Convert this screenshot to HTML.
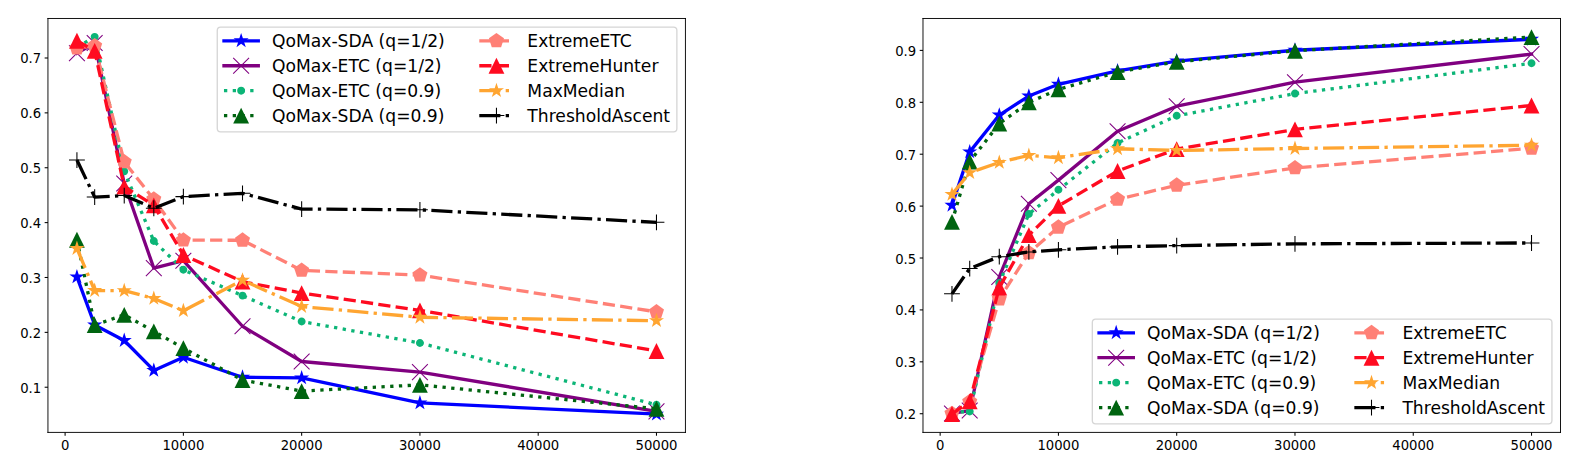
<!DOCTYPE html>
<html lang="en"><head><meta charset="utf-8"><title>QoMax comparison</title>
<style>
html,body{margin:0;padding:0;background:#fff;}
body{width:1584px;height:463px;overflow:hidden;font-family:"DejaVu Sans","Liberation Sans",sans-serif;}
svg{display:block;position:absolute;left:0;top:0;stroke-linejoin:round;stroke-linecap:butt;}
svg *{stroke-linejoin:round;stroke-linecap:butt;}
</style></head><body>
<svg width="1584" height="463" viewBox="0 0 1200 350.758" preserveAspectRatio="none"><g><g><path d="M 0 350.758 L 1200 350.758 L 1200 0 L 0 0 z" style="fill: #ffffff" /></g><g><g><path d="M 36.326 327.591 L 519.28 327.591 L 519.28 14.015 L 36.326 14.015 z" style="fill: #ffffff" /></g><g><g><g><g><path d="M 0 0 L 0 2.5" style="stroke: #000000; stroke-width: 0.8;stroke: #000000; stroke-width: 0.8" transform="translate(49.318 327.591)" /></g></g><g><text style="font-size: 10px; font-family: 'DejaVu Sans', 'Liberation Sans', sans-serif; text-anchor: middle" x="49.318" y="340.889">0</text></g></g><g><g><g><path d="M 0 0 L 0 2.5" style="stroke: #000000; stroke-width: 0.8;stroke: #000000; stroke-width: 0.8" transform="translate(138.92 327.591)" /></g></g><g><text style="font-size: 10px; font-family: 'DejaVu Sans', 'Liberation Sans', sans-serif; text-anchor: middle" x="138.92" y="340.889">10000</text></g></g><g><g><g><path d="M 0 0 L 0 2.5" style="stroke: #000000; stroke-width: 0.8;stroke: #000000; stroke-width: 0.8" transform="translate(228.522 327.591)" /></g></g><g><text style="font-size: 10px; font-family: 'DejaVu Sans', 'Liberation Sans', sans-serif; text-anchor: middle" x="228.522" y="340.889">20000</text></g></g><g><g><g><path d="M 0 0 L 0 2.5" style="stroke: #000000; stroke-width: 0.8;stroke: #000000; stroke-width: 0.8" transform="translate(318.124 327.591)" /></g></g><g><text style="font-size: 10px; font-family: 'DejaVu Sans', 'Liberation Sans', sans-serif; text-anchor: middle" x="318.124" y="340.889">30000</text></g></g><g><g><g><path d="M 0 0 L 0 2.5" style="stroke: #000000; stroke-width: 0.8;stroke: #000000; stroke-width: 0.8" transform="translate(407.726 327.591)" /></g></g><g><text style="font-size: 10px; font-family: 'DejaVu Sans', 'Liberation Sans', sans-serif; text-anchor: middle" x="407.726" y="340.889">40000</text></g></g><g><g><g><path d="M 0 0 L 0 2.5" style="stroke: #000000; stroke-width: 0.8;stroke: #000000; stroke-width: 0.8" transform="translate(497.328 327.591)" /></g></g><g><text style="font-size: 10px; font-family: 'DejaVu Sans', 'Liberation Sans', sans-serif; text-anchor: middle" x="497.328" y="340.889">50000</text></g></g></g><g><g><g><g><path d="M 0 0 L -2.5 0" style="stroke: #000000; stroke-width: 0.8;stroke: #000000; stroke-width: 0.8" transform="translate(36.326 293.354)" /></g></g><g><text style="font-size: 10px; font-family: 'DejaVu Sans', 'Liberation Sans', sans-serif; text-anchor: end" x="31.176" y="297.533">0.1</text></g></g><g><g><g><path d="M 0 0 L -2.5 0" style="stroke: #000000; stroke-width: 0.8;stroke: #000000; stroke-width: 0.8" transform="translate(36.326 251.785)" /></g></g><g><text style="font-size: 10px; font-family: 'DejaVu Sans', 'Liberation Sans', sans-serif; text-anchor: end" x="31.176" y="255.964">0.2</text></g></g><g><g><g><path d="M 0 0 L -2.5 0" style="stroke: #000000; stroke-width: 0.8;stroke: #000000; stroke-width: 0.8" transform="translate(36.326 210.215)" /></g></g><g><text style="font-size: 10px; font-family: 'DejaVu Sans', 'Liberation Sans', sans-serif; text-anchor: end" x="31.176" y="214.394">0.3</text></g></g><g><g><g><path d="M 0 0 L -2.5 0" style="stroke: #000000; stroke-width: 0.8;stroke: #000000; stroke-width: 0.8" transform="translate(36.326 168.646)" /></g></g><g><text style="font-size: 10px; font-family: 'DejaVu Sans', 'Liberation Sans', sans-serif; text-anchor: end" x="31.176" y="172.825">0.4</text></g></g><g><g><g><path d="M 0 0 L -2.5 0" style="stroke: #000000; stroke-width: 0.8;stroke: #000000; stroke-width: 0.8" transform="translate(36.326 127.076)" /></g></g><g><text style="font-size: 10px; font-family: 'DejaVu Sans', 'Liberation Sans', sans-serif; text-anchor: end" x="31.176" y="131.255">0.5</text></g></g><g><g><g><path d="M 0 0 L -2.5 0" style="stroke: #000000; stroke-width: 0.8;stroke: #000000; stroke-width: 0.8" transform="translate(36.326 85.506)" /></g></g><g><text style="font-size: 10px; font-family: 'DejaVu Sans', 'Liberation Sans', sans-serif; text-anchor: end" x="31.176" y="89.686">0.6</text></g></g><g><g><g><path d="M 0 0 L -2.5 0" style="stroke: #000000; stroke-width: 0.8;stroke: #000000; stroke-width: 0.8" transform="translate(36.326 43.937)" /></g></g><g><text style="font-size: 10px; font-family: 'DejaVu Sans', 'Liberation Sans', sans-serif; text-anchor: end" x="31.176" y="48.116">0.7</text></g></g></g><g><path d="M 58.278 209.758 L 71.719 246.173 L 94.119 257.937 L 116.52 280.634 L 138.92 270.657 L 183.721 285.789 L 228.522 286.329 L 318.124 305.202 L 497.328 313.723" style="fill: none; stroke: #0000ff; stroke-width: 2.5; stroke-linecap: square" /><g><path d="M 0 -6 L -1.347 -1.854 L -5.706 -1.854 L -2.18 0.708 L -3.527 4.854 L -0 2.292 L 3.527 4.854 L 2.18 0.708 L 5.706 -1.854 L 1.347 -1.854 z" style="fill: #0000ff" transform="translate(58.278 209.758)" /><path d="M 0 -6 L -1.347 -1.854 L -5.706 -1.854 L -2.18 0.708 L -3.527 4.854 L -0 2.292 L 3.527 4.854 L 2.18 0.708 L 5.706 -1.854 L 1.347 -1.854 z" style="fill: #0000ff" transform="translate(71.719 246.173)" /><path d="M 0 -6 L -1.347 -1.854 L -5.706 -1.854 L -2.18 0.708 L -3.527 4.854 L -0 2.292 L 3.527 4.854 L 2.18 0.708 L 5.706 -1.854 L 1.347 -1.854 z" style="fill: #0000ff" transform="translate(94.119 257.937)" /><path d="M 0 -6 L -1.347 -1.854 L -5.706 -1.854 L -2.18 0.708 L -3.527 4.854 L -0 2.292 L 3.527 4.854 L 2.18 0.708 L 5.706 -1.854 L 1.347 -1.854 z" style="fill: #0000ff" transform="translate(116.52 280.634)" /><path d="M 0 -6 L -1.347 -1.854 L -5.706 -1.854 L -2.18 0.708 L -3.527 4.854 L -0 2.292 L 3.527 4.854 L 2.18 0.708 L 5.706 -1.854 L 1.347 -1.854 z" style="fill: #0000ff" transform="translate(138.92 270.657)" /><path d="M 0 -6 L -1.347 -1.854 L -5.706 -1.854 L -2.18 0.708 L -3.527 4.854 L -0 2.292 L 3.527 4.854 L 2.18 0.708 L 5.706 -1.854 L 1.347 -1.854 z" style="fill: #0000ff" transform="translate(183.721 285.789)" /><path d="M 0 -6 L -1.347 -1.854 L -5.706 -1.854 L -2.18 0.708 L -3.527 4.854 L -0 2.292 L 3.527 4.854 L 2.18 0.708 L 5.706 -1.854 L 1.347 -1.854 z" style="fill: #0000ff" transform="translate(228.522 286.329)" /><path d="M 0 -6 L -1.347 -1.854 L -5.706 -1.854 L -2.18 0.708 L -3.527 4.854 L -0 2.292 L 3.527 4.854 L 2.18 0.708 L 5.706 -1.854 L 1.347 -1.854 z" style="fill: #0000ff" transform="translate(318.124 305.202)" /><path d="M 0 -6 L -1.347 -1.854 L -5.706 -1.854 L -2.18 0.708 L -3.527 4.854 L -0 2.292 L 3.527 4.854 L 2.18 0.708 L 5.706 -1.854 L 1.347 -1.854 z" style="fill: #0000ff" transform="translate(497.328 313.723)" /></g></g><g><path d="M 58.278 40.279 L 71.719 32.588 L 94.119 139.048 L 116.52 203.148 L 138.92 197.495 L 183.721 247.17 L 228.522 273.858 L 318.124 281.881 L 497.328 311.645" style="fill: none; stroke: #800080; stroke-width: 2.5; stroke-linecap: square" /><g><path d="M -6 6 L 6 -6 M -6 -6 L 6 6" style="stroke: #800080; stroke-width: 0.8;fill: #800080; stroke: #800080; stroke-width: 0.8" transform="translate(58.278 40.279)" /><path d="M -6 6 L 6 -6 M -6 -6 L 6 6" style="stroke: #800080; stroke-width: 0.8;fill: #800080; stroke: #800080; stroke-width: 0.8" transform="translate(71.719 32.588)" /><path d="M -6 6 L 6 -6 M -6 -6 L 6 6" style="stroke: #800080; stroke-width: 0.8;fill: #800080; stroke: #800080; stroke-width: 0.8" transform="translate(94.119 139.048)" /><path d="M -6 6 L 6 -6 M -6 -6 L 6 6" style="stroke: #800080; stroke-width: 0.8;fill: #800080; stroke: #800080; stroke-width: 0.8" transform="translate(116.52 203.148)" /><path d="M -6 6 L 6 -6 M -6 -6 L 6 6" style="stroke: #800080; stroke-width: 0.8;fill: #800080; stroke: #800080; stroke-width: 0.8" transform="translate(138.92 197.495)" /><path d="M -6 6 L 6 -6 M -6 -6 L 6 6" style="stroke: #800080; stroke-width: 0.8;fill: #800080; stroke: #800080; stroke-width: 0.8" transform="translate(183.721 247.17)" /><path d="M -6 6 L 6 -6 M -6 -6 L 6 6" style="stroke: #800080; stroke-width: 0.8;fill: #800080; stroke: #800080; stroke-width: 0.8" transform="translate(228.522 273.858)" /><path d="M -6 6 L 6 -6 M -6 -6 L 6 6" style="stroke: #800080; stroke-width: 0.8;fill: #800080; stroke: #800080; stroke-width: 0.8" transform="translate(318.124 281.881)" /><path d="M -6 6 L 6 -6 M -6 -6 L 6 6" style="stroke: #800080; stroke-width: 0.8;fill: #800080; stroke: #800080; stroke-width: 0.8" transform="translate(497.328 311.645)" /></g></g><g><path d="M 58.278 35.831 L 71.719 27.933 L 94.119 129.82 L 116.52 182.613 L 138.92 204.395 L 183.721 223.933 L 228.522 243.595 L 318.124 259.808 L 497.328 306.656" style="fill: none; stroke-dasharray: 2.5,4.125; stroke-dashoffset: 0; stroke: #0cb577; stroke-width: 2.5" /><g><path d="M 0 3 C 0.796 3 1.559 2.684 2.121 2.121 C 2.684 1.559 3 0.796 3 0 C 3 -0.796 2.684 -1.559 2.121 -2.121 C 1.559 -2.684 0.796 -3 0 -3 C -0.796 -3 -1.559 -2.684 -2.121 -2.121 C -2.684 -1.559 -3 -0.796 -3 0 C -3 0.796 -2.684 1.559 -2.121 2.121 C -1.559 2.684 -0.796 3 0 3 z" style="fill: #0cb577" transform="translate(58.278 35.831)" /><path d="M 0 3 C 0.796 3 1.559 2.684 2.121 2.121 C 2.684 1.559 3 0.796 3 0 C 3 -0.796 2.684 -1.559 2.121 -2.121 C 1.559 -2.684 0.796 -3 0 -3 C -0.796 -3 -1.559 -2.684 -2.121 -2.121 C -2.684 -1.559 -3 -0.796 -3 0 C -3 0.796 -2.684 1.559 -2.121 2.121 C -1.559 2.684 -0.796 3 0 3 z" style="fill: #0cb577" transform="translate(71.719 27.933)" /><path d="M 0 3 C 0.796 3 1.559 2.684 2.121 2.121 C 2.684 1.559 3 0.796 3 0 C 3 -0.796 2.684 -1.559 2.121 -2.121 C 1.559 -2.684 0.796 -3 0 -3 C -0.796 -3 -1.559 -2.684 -2.121 -2.121 C -2.684 -1.559 -3 -0.796 -3 0 C -3 0.796 -2.684 1.559 -2.121 2.121 C -1.559 2.684 -0.796 3 0 3 z" style="fill: #0cb577" transform="translate(94.119 129.82)" /><path d="M 0 3 C 0.796 3 1.559 2.684 2.121 2.121 C 2.684 1.559 3 0.796 3 0 C 3 -0.796 2.684 -1.559 2.121 -2.121 C 1.559 -2.684 0.796 -3 0 -3 C -0.796 -3 -1.559 -2.684 -2.121 -2.121 C -2.684 -1.559 -3 -0.796 -3 0 C -3 0.796 -2.684 1.559 -2.121 2.121 C -1.559 2.684 -0.796 3 0 3 z" style="fill: #0cb577" transform="translate(116.52 182.613)" /><path d="M 0 3 C 0.796 3 1.559 2.684 2.121 2.121 C 2.684 1.559 3 0.796 3 0 C 3 -0.796 2.684 -1.559 2.121 -2.121 C 1.559 -2.684 0.796 -3 0 -3 C -0.796 -3 -1.559 -2.684 -2.121 -2.121 C -2.684 -1.559 -3 -0.796 -3 0 C -3 0.796 -2.684 1.559 -2.121 2.121 C -1.559 2.684 -0.796 3 0 3 z" style="fill: #0cb577" transform="translate(138.92 204.395)" /><path d="M 0 3 C 0.796 3 1.559 2.684 2.121 2.121 C 2.684 1.559 3 0.796 3 0 C 3 -0.796 2.684 -1.559 2.121 -2.121 C 1.559 -2.684 0.796 -3 0 -3 C -0.796 -3 -1.559 -2.684 -2.121 -2.121 C -2.684 -1.559 -3 -0.796 -3 0 C -3 0.796 -2.684 1.559 -2.121 2.121 C -1.559 2.684 -0.796 3 0 3 z" style="fill: #0cb577" transform="translate(183.721 223.933)" /><path d="M 0 3 C 0.796 3 1.559 2.684 2.121 2.121 C 2.684 1.559 3 0.796 3 0 C 3 -0.796 2.684 -1.559 2.121 -2.121 C 1.559 -2.684 0.796 -3 0 -3 C -0.796 -3 -1.559 -2.684 -2.121 -2.121 C -2.684 -1.559 -3 -0.796 -3 0 C -3 0.796 -2.684 1.559 -2.121 2.121 C -1.559 2.684 -0.796 3 0 3 z" style="fill: #0cb577" transform="translate(228.522 243.595)" /><path d="M 0 3 C 0.796 3 1.559 2.684 2.121 2.121 C 2.684 1.559 3 0.796 3 0 C 3 -0.796 2.684 -1.559 2.121 -2.121 C 1.559 -2.684 0.796 -3 0 -3 C -0.796 -3 -1.559 -2.684 -2.121 -2.121 C -2.684 -1.559 -3 -0.796 -3 0 C -3 0.796 -2.684 1.559 -2.121 2.121 C -1.559 2.684 -0.796 3 0 3 z" style="fill: #0cb577" transform="translate(318.124 259.808)" /><path d="M 0 3 C 0.796 3 1.559 2.684 2.121 2.121 C 2.684 1.559 3 0.796 3 0 C 3 -0.796 2.684 -1.559 2.121 -2.121 C 1.559 -2.684 0.796 -3 0 -3 C -0.796 -3 -1.559 -2.684 -2.121 -2.121 C -2.684 -1.559 -3 -0.796 -3 0 C -3 0.796 -2.684 1.559 -2.121 2.121 C -1.559 2.684 -0.796 3 0 3 z" style="fill: #0cb577" transform="translate(497.328 306.656)" /></g></g><g><path d="M 58.278 181.657 L 71.719 246.256 L 94.119 238.482 L 116.52 250.995 L 138.92 263.757 L 183.721 287.909 L 228.522 296.264 L 318.124 291.567 L 497.328 309.649" style="fill: none; stroke-dasharray: 2.5,4.125; stroke-dashoffset: 0; stroke: #006410; stroke-width: 2.5" /><g><path d="M 0 -6 L -6 6 L 6 6 z" style="fill: #006410" transform="translate(58.278 181.657)" /><path d="M 0 -6 L -6 6 L 6 6 z" style="fill: #006410" transform="translate(71.719 246.256)" /><path d="M 0 -6 L -6 6 L 6 6 z" style="fill: #006410" transform="translate(94.119 238.482)" /><path d="M 0 -6 L -6 6 L 6 6 z" style="fill: #006410" transform="translate(116.52 250.995)" /><path d="M 0 -6 L -6 6 L 6 6 z" style="fill: #006410" transform="translate(138.92 263.757)" /><path d="M 0 -6 L -6 6 L 6 6 z" style="fill: #006410" transform="translate(183.721 287.909)" /><path d="M 0 -6 L -6 6 L 6 6 z" style="fill: #006410" transform="translate(228.522 296.264)" /><path d="M 0 -6 L -6 6 L 6 6 z" style="fill: #006410" transform="translate(318.124 291.567)" /><path d="M 0 -6 L -6 6 L 6 6 z" style="fill: #006410" transform="translate(497.328 309.649)" /></g></g><g><path d="M 58.278 36.454 L 71.719 34.792 L 94.119 122.628 L 116.52 150.979 L 138.92 181.906 L 183.721 182.031 L 228.522 204.811 L 318.124 208.386 L 497.328 236.238" style="fill: none; stroke-dasharray: 9.25,4; stroke-dashoffset: 0; stroke: #ff8076; stroke-width: 2.5" /><g><path d="M 0 -6 L -5.706 -1.854 L -3.527 4.854 L 3.527 4.854 L 5.706 -1.854 z" style="fill: #ff8076" transform="translate(58.278 36.454)" /><path d="M 0 -6 L -5.706 -1.854 L -3.527 4.854 L 3.527 4.854 L 5.706 -1.854 z" style="fill: #ff8076" transform="translate(71.719 34.792)" /><path d="M 0 -6 L -5.706 -1.854 L -3.527 4.854 L 3.527 4.854 L 5.706 -1.854 z" style="fill: #ff8076" transform="translate(94.119 122.628)" /><path d="M 0 -6 L -5.706 -1.854 L -3.527 4.854 L 3.527 4.854 L 5.706 -1.854 z" style="fill: #ff8076" transform="translate(116.52 150.979)" /><path d="M 0 -6 L -5.706 -1.854 L -3.527 4.854 L 3.527 4.854 L 5.706 -1.854 z" style="fill: #ff8076" transform="translate(138.92 181.906)" /><path d="M 0 -6 L -5.706 -1.854 L -3.527 4.854 L 3.527 4.854 L 5.706 -1.854 z" style="fill: #ff8076" transform="translate(183.721 182.031)" /><path d="M 0 -6 L -5.706 -1.854 L -3.527 4.854 L 3.527 4.854 L 5.706 -1.854 z" style="fill: #ff8076" transform="translate(228.522 204.811)" /><path d="M 0 -6 L -5.706 -1.854 L -3.527 4.854 L 3.527 4.854 L 5.706 -1.854 z" style="fill: #ff8076" transform="translate(318.124 208.386)" /><path d="M 0 -6 L -5.706 -1.854 L -3.527 4.854 L 3.527 4.854 L 5.706 -1.854 z" style="fill: #ff8076" transform="translate(497.328 236.238)" /></g></g><g><path d="M 58.278 30.843 L 71.719 38.533 L 94.119 141.418 L 116.52 155.593 L 138.92 193.172 L 183.721 213.374 L 228.522 222.021 L 318.124 235.115 L 497.328 265.877" style="fill: none; stroke-dasharray: 9.25,4; stroke-dashoffset: 0; stroke: #ff0b20; stroke-width: 2.5" /><g><path d="M 0 -6 L -6 6 L 6 6 z" style="fill: #ff0b20" transform="translate(58.278 30.843)" /><path d="M 0 -6 L -6 6 L 6 6 z" style="fill: #ff0b20" transform="translate(71.719 38.533)" /><path d="M 0 -6 L -6 6 L 6 6 z" style="fill: #ff0b20" transform="translate(94.119 141.418)" /><path d="M 0 -6 L -6 6 L 6 6 z" style="fill: #ff0b20" transform="translate(116.52 155.593)" /><path d="M 0 -6 L -6 6 L 6 6 z" style="fill: #ff0b20" transform="translate(138.92 193.172)" /><path d="M 0 -6 L -6 6 L 6 6 z" style="fill: #ff0b20" transform="translate(183.721 213.374)" /><path d="M 0 -6 L -6 6 L 6 6 z" style="fill: #ff0b20" transform="translate(228.522 222.021)" /><path d="M 0 -6 L -6 6 L 6 6 z" style="fill: #ff0b20" transform="translate(318.124 235.115)" /><path d="M 0 -6 L -6 6 L 6 6 z" style="fill: #ff0b20" transform="translate(497.328 265.877)" /></g></g><g><path d="M 58.278 188.266 L 71.719 220.109 L 94.119 220.192 L 116.52 226.095 L 138.92 235.365 L 183.721 212.335 L 228.522 232.247 L 318.124 240.353 L 497.328 242.93" style="fill: none; stroke-dasharray: 16,4,2.5,4; stroke-dashoffset: 0; stroke: #ffa531; stroke-width: 2.5" /><g><path d="M 0 -6 L -1.347 -1.854 L -5.706 -1.854 L -2.18 0.708 L -3.527 4.854 L -0 2.292 L 3.527 4.854 L 2.18 0.708 L 5.706 -1.854 L 1.347 -1.854 z" style="fill: #ffa531" transform="translate(58.278 188.266)" /><path d="M 0 -6 L -1.347 -1.854 L -5.706 -1.854 L -2.18 0.708 L -3.527 4.854 L -0 2.292 L 3.527 4.854 L 2.18 0.708 L 5.706 -1.854 L 1.347 -1.854 z" style="fill: #ffa531" transform="translate(71.719 220.109)" /><path d="M 0 -6 L -1.347 -1.854 L -5.706 -1.854 L -2.18 0.708 L -3.527 4.854 L -0 2.292 L 3.527 4.854 L 2.18 0.708 L 5.706 -1.854 L 1.347 -1.854 z" style="fill: #ffa531" transform="translate(94.119 220.192)" /><path d="M 0 -6 L -1.347 -1.854 L -5.706 -1.854 L -2.18 0.708 L -3.527 4.854 L -0 2.292 L 3.527 4.854 L 2.18 0.708 L 5.706 -1.854 L 1.347 -1.854 z" style="fill: #ffa531" transform="translate(116.52 226.095)" /><path d="M 0 -6 L -1.347 -1.854 L -5.706 -1.854 L -2.18 0.708 L -3.527 4.854 L -0 2.292 L 3.527 4.854 L 2.18 0.708 L 5.706 -1.854 L 1.347 -1.854 z" style="fill: #ffa531" transform="translate(138.92 235.365)" /><path d="M 0 -6 L -1.347 -1.854 L -5.706 -1.854 L -2.18 0.708 L -3.527 4.854 L -0 2.292 L 3.527 4.854 L 2.18 0.708 L 5.706 -1.854 L 1.347 -1.854 z" style="fill: #ffa531" transform="translate(183.721 212.335)" /><path d="M 0 -6 L -1.347 -1.854 L -5.706 -1.854 L -2.18 0.708 L -3.527 4.854 L -0 2.292 L 3.527 4.854 L 2.18 0.708 L 5.706 -1.854 L 1.347 -1.854 z" style="fill: #ffa531" transform="translate(228.522 232.247)" /><path d="M 0 -6 L -1.347 -1.854 L -5.706 -1.854 L -2.18 0.708 L -3.527 4.854 L -0 2.292 L 3.527 4.854 L 2.18 0.708 L 5.706 -1.854 L 1.347 -1.854 z" style="fill: #ffa531" transform="translate(318.124 240.353)" /><path d="M 0 -6 L -1.347 -1.854 L -5.706 -1.854 L -2.18 0.708 L -3.527 4.854 L -0 2.292 L 3.527 4.854 L 2.18 0.708 L 5.706 -1.854 L 1.347 -1.854 z" style="fill: #ffa531" transform="translate(497.328 242.93)" /></g></g><g><path d="M 58.278 121.256 L 71.719 149.316 L 94.119 148.152 L 116.52 157.754 L 138.92 148.942 L 183.721 146.447 L 228.522 158.378 L 318.124 158.96 L 497.328 168.438" style="fill: none; stroke-dasharray: 16,4,2.5,4; stroke-dashoffset: 0; stroke: #000000; stroke-width: 2.5" /><g><path d="M -6 0 L 6 0 M 0 6 L 0 -6" style="stroke: #000000; stroke-width: 0.8;stroke: #000000; stroke-width: 0.8" transform="translate(58.278 121.256)" /><path d="M -6 0 L 6 0 M 0 6 L 0 -6" style="stroke: #000000; stroke-width: 0.8;stroke: #000000; stroke-width: 0.8" transform="translate(71.719 149.316)" /><path d="M -6 0 L 6 0 M 0 6 L 0 -6" style="stroke: #000000; stroke-width: 0.8;stroke: #000000; stroke-width: 0.8" transform="translate(94.119 148.152)" /><path d="M -6 0 L 6 0 M 0 6 L 0 -6" style="stroke: #000000; stroke-width: 0.8;stroke: #000000; stroke-width: 0.8" transform="translate(116.52 157.754)" /><path d="M -6 0 L 6 0 M 0 6 L 0 -6" style="stroke: #000000; stroke-width: 0.8;stroke: #000000; stroke-width: 0.8" transform="translate(138.92 148.942)" /><path d="M -6 0 L 6 0 M 0 6 L 0 -6" style="stroke: #000000; stroke-width: 0.8;stroke: #000000; stroke-width: 0.8" transform="translate(183.721 146.447)" /><path d="M -6 0 L 6 0 M 0 6 L 0 -6" style="stroke: #000000; stroke-width: 0.8;stroke: #000000; stroke-width: 0.8" transform="translate(228.522 158.378)" /><path d="M -6 0 L 6 0 M 0 6 L 0 -6" style="stroke: #000000; stroke-width: 0.8;stroke: #000000; stroke-width: 0.8" transform="translate(318.124 158.96)" /><path d="M -6 0 L 6 0 M 0 6 L 0 -6" style="stroke: #000000; stroke-width: 0.8;stroke: #000000; stroke-width: 0.8" transform="translate(497.328 168.438)" /></g></g><g><path d="M 36.326 327.591 L 36.326 14.015" style="fill: none; stroke: #000000; stroke-width: 0.7; stroke-linejoin: miter; stroke-linecap: square" /></g><g><path d="M 519.28 327.591 L 519.28 14.015" style="fill: none; stroke: #000000; stroke-width: 0.7; stroke-linejoin: miter; stroke-linecap: square" /></g><g><path d="M 36.326 327.591 L 519.28 327.591" style="fill: none; stroke: #000000; stroke-width: 0.7; stroke-linejoin: miter; stroke-linecap: square" /></g><g><path d="M 36.326 14.015 L 519.28 14.015" style="fill: none; stroke: #000000; stroke-width: 0.7; stroke-linejoin: miter; stroke-linecap: square" /></g><g><g><path d="M 167.206 99.896 L 510.18 99.896 Q 512.78 99.896 512.78 97.296 L 512.78 23.115 Q 512.78 20.515 510.18 20.515 L 167.206 20.515 Q 164.606 20.515 164.606 23.115 L 164.606 97.296 Q 164.606 99.896 167.206 99.896 z" style="fill: #ffffff; opacity: 0.8; stroke: #cccccc; stroke-linejoin: miter" /></g><g><path d="M 169.676 30.913 L 182.676 30.913 L 195.676 30.913" style="fill: none; stroke: #0000ff; stroke-width: 2.5; stroke-linecap: square" /><g><path d="M 0 -6 L -1.347 -1.854 L -5.706 -1.854 L -2.18 0.708 L -3.527 4.854 L -0 2.292 L 3.527 4.854 L 2.18 0.708 L 5.706 -1.854 L 1.347 -1.854 z" style="fill: #0000ff" transform="translate(182.676 30.913)" /></g></g><g><text style="font-size: 13px; font-family: 'DejaVu Sans', 'Liberation Sans', sans-serif; text-anchor: start" x="206.076" y="35.463">QoMax-SDA (q=1/2)</text></g><g><path d="M 169.676 49.8 L 182.676 49.8 L 195.676 49.8" style="fill: none; stroke: #800080; stroke-width: 2.5; stroke-linecap: square" /><g><path d="M -6 6 L 6 -6 M -6 -6 L 6 6" style="stroke: #800080; stroke-width: 0.8;fill: #800080; stroke: #800080; stroke-width: 0.8" transform="translate(182.676 49.8)" /></g></g><g><text style="font-size: 13px; font-family: 'DejaVu Sans', 'Liberation Sans', sans-serif; text-anchor: start" x="206.076" y="54.35">QoMax-ETC (q=1/2)</text></g><g><path d="M 169.676 68.686 L 182.676 68.686 L 195.676 68.686" style="fill: none; stroke-dasharray: 2.5,4.125; stroke-dashoffset: 0; stroke: #0cb577; stroke-width: 2.5" /><g><path d="M 0 3 C 0.796 3 1.559 2.684 2.121 2.121 C 2.684 1.559 3 0.796 3 0 C 3 -0.796 2.684 -1.559 2.121 -2.121 C 1.559 -2.684 0.796 -3 0 -3 C -0.796 -3 -1.559 -2.684 -2.121 -2.121 C -2.684 -1.559 -3 -0.796 -3 0 C -3 0.796 -2.684 1.559 -2.121 2.121 C -1.559 2.684 -0.796 3 0 3 z" style="fill: #0cb577" transform="translate(182.676 68.686)" /></g></g><g><text style="font-size: 13px; font-family: 'DejaVu Sans', 'Liberation Sans', sans-serif; text-anchor: start" x="206.076" y="73.236">QoMax-ETC (q=0.9)</text></g><g><path d="M 169.676 87.573 L 182.676 87.573 L 195.676 87.573" style="fill: none; stroke-dasharray: 2.5,4.125; stroke-dashoffset: 0; stroke: #006410; stroke-width: 2.5" /><g><path d="M 0 -6 L -6 6 L 6 6 z" style="fill: #006410" transform="translate(182.676 87.573)" /></g></g><g><text style="font-size: 13px; font-family: 'DejaVu Sans', 'Liberation Sans', sans-serif; text-anchor: start" x="206.076" y="92.123">QoMax-SDA (q=0.9)</text></g><g><path d="M 363.104 30.913 L 376.104 30.913 L 389.104 30.913" style="fill: none; stroke-dasharray: 9.25,4; stroke-dashoffset: 0; stroke: #ff8076; stroke-width: 2.5" /><g><path d="M 0 -6 L -5.706 -1.854 L -3.527 4.854 L 3.527 4.854 L 5.706 -1.854 z" style="fill: #ff8076" transform="translate(376.104 30.913)" /></g></g><g><text style="font-size: 13px; font-family: 'DejaVu Sans', 'Liberation Sans', sans-serif; text-anchor: start" x="399.504" y="35.463">ExtremeETC</text></g><g><path d="M 363.104 49.8 L 376.104 49.8 L 389.104 49.8" style="fill: none; stroke-dasharray: 9.25,4; stroke-dashoffset: 0; stroke: #ff0b20; stroke-width: 2.5" /><g><path d="M 0 -6 L -6 6 L 6 6 z" style="fill: #ff0b20" transform="translate(376.104 49.8)" /></g></g><g><text style="font-size: 13px; font-family: 'DejaVu Sans', 'Liberation Sans', sans-serif; text-anchor: start" x="399.504" y="54.35">ExtremeHunter</text></g><g><path d="M 363.104 68.686 L 376.104 68.686 L 389.104 68.686" style="fill: none; stroke-dasharray: 16,4,2.5,4; stroke-dashoffset: 0; stroke: #ffa531; stroke-width: 2.5" /><g><path d="M 0 -6 L -1.347 -1.854 L -5.706 -1.854 L -2.18 0.708 L -3.527 4.854 L -0 2.292 L 3.527 4.854 L 2.18 0.708 L 5.706 -1.854 L 1.347 -1.854 z" style="fill: #ffa531" transform="translate(376.104 68.686)" /></g></g><g><text style="font-size: 13px; font-family: 'DejaVu Sans', 'Liberation Sans', sans-serif; text-anchor: start" x="399.504" y="73.236">MaxMedian</text></g><g><path d="M 363.104 87.573 L 376.104 87.573 L 389.104 87.573" style="fill: none; stroke-dasharray: 16,4,2.5,4; stroke-dashoffset: 0; stroke: #000000; stroke-width: 2.5" /><g><path d="M -6 0 L 6 0 M 0 6 L 0 -6" style="stroke: #000000; stroke-width: 0.8;stroke: #000000; stroke-width: 0.8" transform="translate(376.104 87.573)" /></g></g><g><text style="font-size: 13px; font-family: 'DejaVu Sans', 'Liberation Sans', sans-serif; text-anchor: start" x="399.504" y="92.123">ThresholdAscent</text></g></g></g><g><g><path d="M 699.242 327.591 L 1182.197 327.591 L 1182.197 14.015 L 699.242 14.015 z" style="fill: #ffffff" /></g><g><g><g><g><path d="M 0 0 L 0 2.5" style="stroke: #000000; stroke-width: 0.8;stroke: #000000; stroke-width: 0.8" transform="translate(712.235 327.591)" /></g></g><g><text style="font-size: 10px; font-family: 'DejaVu Sans', 'Liberation Sans', sans-serif; text-anchor: middle" x="712.235" y="340.889">0</text></g></g><g><g><g><path d="M 0 0 L 0 2.5" style="stroke: #000000; stroke-width: 0.8;stroke: #000000; stroke-width: 0.8" transform="translate(801.837 327.591)" /></g></g><g><text style="font-size: 10px; font-family: 'DejaVu Sans', 'Liberation Sans', sans-serif; text-anchor: middle" x="801.837" y="340.889">10000</text></g></g><g><g><g><path d="M 0 0 L 0 2.5" style="stroke: #000000; stroke-width: 0.8;stroke: #000000; stroke-width: 0.8" transform="translate(891.439 327.591)" /></g></g><g><text style="font-size: 10px; font-family: 'DejaVu Sans', 'Liberation Sans', sans-serif; text-anchor: middle" x="891.439" y="340.889">20000</text></g></g><g><g><g><path d="M 0 0 L 0 2.5" style="stroke: #000000; stroke-width: 0.8;stroke: #000000; stroke-width: 0.8" transform="translate(981.041 327.591)" /></g></g><g><text style="font-size: 10px; font-family: 'DejaVu Sans', 'Liberation Sans', sans-serif; text-anchor: middle" x="981.041" y="340.889">30000</text></g></g><g><g><g><path d="M 0 0 L 0 2.5" style="stroke: #000000; stroke-width: 0.8;stroke: #000000; stroke-width: 0.8" transform="translate(1070.643 327.591)" /></g></g><g><text style="font-size: 10px; font-family: 'DejaVu Sans', 'Liberation Sans', sans-serif; text-anchor: middle" x="1070.643" y="340.889">40000</text></g></g><g><g><g><path d="M 0 0 L 0 2.5" style="stroke: #000000; stroke-width: 0.8;stroke: #000000; stroke-width: 0.8" transform="translate(1160.244 327.591)" /></g></g><g><text style="font-size: 10px; font-family: 'DejaVu Sans', 'Liberation Sans', sans-serif; text-anchor: middle" x="1160.244" y="340.889">50000</text></g></g></g><g><g><g><g><path d="M 0 0 L -2.5 0" style="stroke: #000000; stroke-width: 0.8;stroke: #000000; stroke-width: 0.8" transform="translate(699.242 313.427)" /></g></g><g><text style="font-size: 10px; font-family: 'DejaVu Sans', 'Liberation Sans', sans-serif; text-anchor: end" x="694.092" y="317.607">0.2</text></g></g><g><g><g><path d="M 0 0 L -2.5 0" style="stroke: #000000; stroke-width: 0.8;stroke: #000000; stroke-width: 0.8" transform="translate(699.242 274.106)" /></g></g><g><text style="font-size: 10px; font-family: 'DejaVu Sans', 'Liberation Sans', sans-serif; text-anchor: end" x="694.092" y="278.285">0.3</text></g></g><g><g><g><path d="M 0 0 L -2.5 0" style="stroke: #000000; stroke-width: 0.8;stroke: #000000; stroke-width: 0.8" transform="translate(699.242 234.785)" /></g></g><g><text style="font-size: 10px; font-family: 'DejaVu Sans', 'Liberation Sans', sans-serif; text-anchor: end" x="694.092" y="238.964">0.4</text></g></g><g><g><g><path d="M 0 0 L -2.5 0" style="stroke: #000000; stroke-width: 0.8;stroke: #000000; stroke-width: 0.8" transform="translate(699.242 195.463)" /></g></g><g><text style="font-size: 10px; font-family: 'DejaVu Sans', 'Liberation Sans', sans-serif; text-anchor: end" x="694.092" y="199.643">0.5</text></g></g><g><g><g><path d="M 0 0 L -2.5 0" style="stroke: #000000; stroke-width: 0.8;stroke: #000000; stroke-width: 0.8" transform="translate(699.242 156.142)" /></g></g><g><text style="font-size: 10px; font-family: 'DejaVu Sans', 'Liberation Sans', sans-serif; text-anchor: end" x="694.092" y="160.321">0.6</text></g></g><g><g><g><path d="M 0 0 L -2.5 0" style="stroke: #000000; stroke-width: 0.8;stroke: #000000; stroke-width: 0.8" transform="translate(699.242 116.821)" /></g></g><g><text style="font-size: 10px; font-family: 'DejaVu Sans', 'Liberation Sans', sans-serif; text-anchor: end" x="694.092" y="121.000">0.7</text></g></g><g><g><g><path d="M 0 0 L -2.5 0" style="stroke: #000000; stroke-width: 0.8;stroke: #000000; stroke-width: 0.8" transform="translate(699.242 77.499)" /></g></g><g><text style="font-size: 10px; font-family: 'DejaVu Sans', 'Liberation Sans', sans-serif; text-anchor: end" x="694.092" y="81.679">0.8</text></g></g><g><g><g><path d="M 0 0 L -2.5 0" style="stroke: #000000; stroke-width: 0.8;stroke: #000000; stroke-width: 0.8" transform="translate(699.242 38.178)" /></g></g><g><text style="font-size: 10px; font-family: 'DejaVu Sans', 'Liberation Sans', sans-serif; text-anchor: end" x="694.092" y="42.357">0.9</text></g></g></g><g><path d="M 721.195 155.513 L 734.635 115.051 L 757.036 87.172 L 779.436 72.781 L 801.837 63.855 L 846.638 53.71 L 891.439 46.239 L 981.041 38.06 L 1160.244 29.724" style="fill: none; stroke: #0000ff; stroke-width: 2.5; stroke-linecap: square" /><g><path d="M 0 -6 L -1.347 -1.854 L -5.706 -1.854 L -2.18 0.708 L -3.527 4.854 L -0 2.292 L 3.527 4.854 L 2.18 0.708 L 5.706 -1.854 L 1.347 -1.854 z" style="fill: #0000ff" transform="translate(721.195 155.513)" /><path d="M 0 -6 L -1.347 -1.854 L -5.706 -1.854 L -2.18 0.708 L -3.527 4.854 L -0 2.292 L 3.527 4.854 L 2.18 0.708 L 5.706 -1.854 L 1.347 -1.854 z" style="fill: #0000ff" transform="translate(734.635 115.051)" /><path d="M 0 -6 L -1.347 -1.854 L -5.706 -1.854 L -2.18 0.708 L -3.527 4.854 L -0 2.292 L 3.527 4.854 L 2.18 0.708 L 5.706 -1.854 L 1.347 -1.854 z" style="fill: #0000ff" transform="translate(757.036 87.172)" /><path d="M 0 -6 L -1.347 -1.854 L -5.706 -1.854 L -2.18 0.708 L -3.527 4.854 L -0 2.292 L 3.527 4.854 L 2.18 0.708 L 5.706 -1.854 L 1.347 -1.854 z" style="fill: #0000ff" transform="translate(779.436 72.781)" /><path d="M 0 -6 L -1.347 -1.854 L -5.706 -1.854 L -2.18 0.708 L -3.527 4.854 L -0 2.292 L 3.527 4.854 L 2.18 0.708 L 5.706 -1.854 L 1.347 -1.854 z" style="fill: #0000ff" transform="translate(801.837 63.855)" /><path d="M 0 -6 L -1.347 -1.854 L -5.706 -1.854 L -2.18 0.708 L -3.527 4.854 L -0 2.292 L 3.527 4.854 L 2.18 0.708 L 5.706 -1.854 L 1.347 -1.854 z" style="fill: #0000ff" transform="translate(846.638 53.71)" /><path d="M 0 -6 L -1.347 -1.854 L -5.706 -1.854 L -2.18 0.708 L -3.527 4.854 L -0 2.292 L 3.527 4.854 L 2.18 0.708 L 5.706 -1.854 L 1.347 -1.854 z" style="fill: #0000ff" transform="translate(891.439 46.239)" /><path d="M 0 -6 L -1.347 -1.854 L -5.706 -1.854 L -2.18 0.708 L -3.527 4.854 L -0 2.292 L 3.527 4.854 L 2.18 0.708 L 5.706 -1.854 L 1.347 -1.854 z" style="fill: #0000ff" transform="translate(981.041 38.06)" /><path d="M 0 -6 L -1.347 -1.854 L -5.706 -1.854 L -2.18 0.708 L -3.527 4.854 L -0 2.292 L 3.527 4.854 L 2.18 0.708 L 5.706 -1.854 L 1.347 -1.854 z" style="fill: #0000ff" transform="translate(1160.244 29.724)" /></g></g><g><path d="M 721.195 313.231 L 734.635 310.989 L 757.036 209.816 L 779.436 154.412 L 801.837 136.481 L 846.638 99.441 L 891.439 80.449 L 981.041 62.282 L 1160.244 40.97" style="fill: none; stroke: #800080; stroke-width: 2.5; stroke-linecap: square" /><g><path d="M -6 6 L 6 -6 M -6 -6 L 6 6" style="stroke: #800080; stroke-width: 0.8;fill: #800080; stroke: #800080; stroke-width: 0.8" transform="translate(721.195 313.231)" /><path d="M -6 6 L 6 -6 M -6 -6 L 6 6" style="stroke: #800080; stroke-width: 0.8;fill: #800080; stroke: #800080; stroke-width: 0.8" transform="translate(734.635 310.989)" /><path d="M -6 6 L 6 -6 M -6 -6 L 6 6" style="stroke: #800080; stroke-width: 0.8;fill: #800080; stroke: #800080; stroke-width: 0.8" transform="translate(757.036 209.816)" /><path d="M -6 6 L 6 -6 M -6 -6 L 6 6" style="stroke: #800080; stroke-width: 0.8;fill: #800080; stroke: #800080; stroke-width: 0.8" transform="translate(779.436 154.412)" /><path d="M -6 6 L 6 -6 M -6 -6 L 6 6" style="stroke: #800080; stroke-width: 0.8;fill: #800080; stroke: #800080; stroke-width: 0.8" transform="translate(801.837 136.481)" /><path d="M -6 6 L 6 -6 M -6 -6 L 6 6" style="stroke: #800080; stroke-width: 0.8;fill: #800080; stroke: #800080; stroke-width: 0.8" transform="translate(846.638 99.441)" /><path d="M -6 6 L 6 -6 M -6 -6 L 6 6" style="stroke: #800080; stroke-width: 0.8;fill: #800080; stroke: #800080; stroke-width: 0.8" transform="translate(891.439 80.449)" /><path d="M -6 6 L 6 -6 M -6 -6 L 6 6" style="stroke: #800080; stroke-width: 0.8;fill: #800080; stroke: #800080; stroke-width: 0.8" transform="translate(981.041 62.282)" /><path d="M -6 6 L 6 -6 M -6 -6 L 6 6" style="stroke: #800080; stroke-width: 0.8;fill: #800080; stroke: #800080; stroke-width: 0.8" transform="translate(1160.244 40.97)" /></g></g><g><path d="M 721.195 312.248 L 734.635 311.776 L 757.036 214.338 L 779.436 162.158 L 801.837 143.795 L 846.638 108.288 L 891.439 87.723 L 981.041 70.893 L 1160.244 47.89" style="fill: none; stroke-dasharray: 2.5,4.125; stroke-dashoffset: 0; stroke: #0cb577; stroke-width: 2.5" /><g><path d="M 0 3 C 0.796 3 1.559 2.684 2.121 2.121 C 2.684 1.559 3 0.796 3 0 C 3 -0.796 2.684 -1.559 2.121 -2.121 C 1.559 -2.684 0.796 -3 0 -3 C -0.796 -3 -1.559 -2.684 -2.121 -2.121 C -2.684 -1.559 -3 -0.796 -3 0 C -3 0.796 -2.684 1.559 -2.121 2.121 C -1.559 2.684 -0.796 3 0 3 z" style="fill: #0cb577" transform="translate(721.195 312.248)" /><path d="M 0 3 C 0.796 3 1.559 2.684 2.121 2.121 C 2.684 1.559 3 0.796 3 0 C 3 -0.796 2.684 -1.559 2.121 -2.121 C 1.559 -2.684 0.796 -3 0 -3 C -0.796 -3 -1.559 -2.684 -2.121 -2.121 C -2.684 -1.559 -3 -0.796 -3 0 C -3 0.796 -2.684 1.559 -2.121 2.121 C -1.559 2.684 -0.796 3 0 3 z" style="fill: #0cb577" transform="translate(734.635 311.776)" /><path d="M 0 3 C 0.796 3 1.559 2.684 2.121 2.121 C 2.684 1.559 3 0.796 3 0 C 3 -0.796 2.684 -1.559 2.121 -2.121 C 1.559 -2.684 0.796 -3 0 -3 C -0.796 -3 -1.559 -2.684 -2.121 -2.121 C -2.684 -1.559 -3 -0.796 -3 0 C -3 0.796 -2.684 1.559 -2.121 2.121 C -1.559 2.684 -0.796 3 0 3 z" style="fill: #0cb577" transform="translate(757.036 214.338)" /><path d="M 0 3 C 0.796 3 1.559 2.684 2.121 2.121 C 2.684 1.559 3 0.796 3 0 C 3 -0.796 2.684 -1.559 2.121 -2.121 C 1.559 -2.684 0.796 -3 0 -3 C -0.796 -3 -1.559 -2.684 -2.121 -2.121 C -2.684 -1.559 -3 -0.796 -3 0 C -3 0.796 -2.684 1.559 -2.121 2.121 C -1.559 2.684 -0.796 3 0 3 z" style="fill: #0cb577" transform="translate(779.436 162.158)" /><path d="M 0 3 C 0.796 3 1.559 2.684 2.121 2.121 C 2.684 1.559 3 0.796 3 0 C 3 -0.796 2.684 -1.559 2.121 -2.121 C 1.559 -2.684 0.796 -3 0 -3 C -0.796 -3 -1.559 -2.684 -2.121 -2.121 C -2.684 -1.559 -3 -0.796 -3 0 C -3 0.796 -2.684 1.559 -2.121 2.121 C -1.559 2.684 -0.796 3 0 3 z" style="fill: #0cb577" transform="translate(801.837 143.795)" /><path d="M 0 3 C 0.796 3 1.559 2.684 2.121 2.121 C 2.684 1.559 3 0.796 3 0 C 3 -0.796 2.684 -1.559 2.121 -2.121 C 1.559 -2.684 0.796 -3 0 -3 C -0.796 -3 -1.559 -2.684 -2.121 -2.121 C -2.684 -1.559 -3 -0.796 -3 0 C -3 0.796 -2.684 1.559 -2.121 2.121 C -1.559 2.684 -0.796 3 0 3 z" style="fill: #0cb577" transform="translate(846.638 108.288)" /><path d="M 0 3 C 0.796 3 1.559 2.684 2.121 2.121 C 2.684 1.559 3 0.796 3 0 C 3 -0.796 2.684 -1.559 2.121 -2.121 C 1.559 -2.684 0.796 -3 0 -3 C -0.796 -3 -1.559 -2.684 -2.121 -2.121 C -2.684 -1.559 -3 -0.796 -3 0 C -3 0.796 -2.684 1.559 -2.121 2.121 C -1.559 2.684 -0.796 3 0 3 z" style="fill: #0cb577" transform="translate(891.439 87.723)" /><path d="M 0 3 C 0.796 3 1.559 2.684 2.121 2.121 C 2.684 1.559 3 0.796 3 0 C 3 -0.796 2.684 -1.559 2.121 -2.121 C 1.559 -2.684 0.796 -3 0 -3 C -0.796 -3 -1.559 -2.684 -2.121 -2.121 C -2.684 -1.559 -3 -0.796 -3 0 C -3 0.796 -2.684 1.559 -2.121 2.121 C -1.559 2.684 -0.796 3 0 3 z" style="fill: #0cb577" transform="translate(981.041 70.893)" /><path d="M 0 3 C 0.796 3 1.559 2.684 2.121 2.121 C 2.684 1.559 3 0.796 3 0 C 3 -0.796 2.684 -1.559 2.121 -2.121 C 1.559 -2.684 0.796 -3 0 -3 C -0.796 -3 -1.559 -2.684 -2.121 -2.121 C -2.684 -1.559 -3 -0.796 -3 0 C -3 0.796 -2.684 1.559 -2.121 2.121 C -1.559 2.684 -0.796 3 0 3 z" style="fill: #0cb577" transform="translate(1160.244 47.89)" /></g></g><g><path d="M 721.195 168.056 L 734.635 122.483 L 757.036 93.621 L 779.436 77.617 L 801.837 67.748 L 846.638 54.614 L 891.439 46.829 L 981.041 38.414 L 1160.244 28.112" style="fill: none; stroke-dasharray: 2.5,4.125; stroke-dashoffset: 0; stroke: #006410; stroke-width: 2.5" /><g><path d="M 0 -6 L -6 6 L 6 6 z" style="fill: #006410" transform="translate(721.195 168.056)" /><path d="M 0 -6 L -6 6 L 6 6 z" style="fill: #006410" transform="translate(734.635 122.483)" /><path d="M 0 -6 L -6 6 L 6 6 z" style="fill: #006410" transform="translate(757.036 93.621)" /><path d="M 0 -6 L -6 6 L 6 6 z" style="fill: #006410" transform="translate(779.436 77.617)" /><path d="M 0 -6 L -6 6 L 6 6 z" style="fill: #006410" transform="translate(801.837 67.748)" /><path d="M 0 -6 L -6 6 L 6 6 z" style="fill: #006410" transform="translate(846.638 54.614)" /><path d="M 0 -6 L -6 6 L 6 6 z" style="fill: #006410" transform="translate(891.439 46.829)" /><path d="M 0 -6 L -6 6 L 6 6 z" style="fill: #006410" transform="translate(981.041 38.414)" /><path d="M 0 -6 L -6 6 L 6 6 z" style="fill: #006410" transform="translate(1160.244 28.112)" /></g></g><g><path d="M 721.195 313.309 L 734.635 304.383 L 757.036 226.527 L 779.436 191.531 L 801.837 172.185 L 846.638 150.991 L 891.439 140.374 L 981.041 127.241 L 1160.244 112.338" style="fill: none; stroke-dasharray: 9.25,4; stroke-dashoffset: 0; stroke: #ff8076; stroke-width: 2.5" /><g><path d="M 0 -6 L -5.706 -1.854 L -3.527 4.854 L 3.527 4.854 L 5.706 -1.854 z" style="fill: #ff8076" transform="translate(721.195 313.309)" /><path d="M 0 -6 L -5.706 -1.854 L -3.527 4.854 L 3.527 4.854 L 5.706 -1.854 z" style="fill: #ff8076" transform="translate(734.635 304.383)" /><path d="M 0 -6 L -5.706 -1.854 L -3.527 4.854 L 3.527 4.854 L 5.706 -1.854 z" style="fill: #ff8076" transform="translate(757.036 226.527)" /><path d="M 0 -6 L -5.706 -1.854 L -3.527 4.854 L 3.527 4.854 L 5.706 -1.854 z" style="fill: #ff8076" transform="translate(779.436 191.531)" /><path d="M 0 -6 L -5.706 -1.854 L -3.527 4.854 L 3.527 4.854 L 5.706 -1.854 z" style="fill: #ff8076" transform="translate(801.837 172.185)" /><path d="M 0 -6 L -5.706 -1.854 L -3.527 4.854 L 3.527 4.854 L 5.706 -1.854 z" style="fill: #ff8076" transform="translate(846.638 150.991)" /><path d="M 0 -6 L -5.706 -1.854 L -3.527 4.854 L 3.527 4.854 L 5.706 -1.854 z" style="fill: #ff8076" transform="translate(891.439 140.374)" /><path d="M 0 -6 L -5.706 -1.854 L -3.527 4.854 L 3.527 4.854 L 5.706 -1.854 z" style="fill: #ff8076" transform="translate(981.041 127.241)" /><path d="M 0 -6 L -5.706 -1.854 L -3.527 4.854 L 3.527 4.854 L 5.706 -1.854 z" style="fill: #ff8076" transform="translate(1160.244 112.338)" /></g></g><g><path d="M 721.195 313.624 L 734.635 304.069 L 757.036 217.837 L 779.436 178.162 L 801.837 156.024 L 846.638 129.522 L 891.439 112.928 L 981.041 98.025 L 1160.244 79.898" style="fill: none; stroke-dasharray: 9.25,4; stroke-dashoffset: 0; stroke: #ff0b20; stroke-width: 2.5" /><g><path d="M 0 -6 L -6 6 L 6 6 z" style="fill: #ff0b20" transform="translate(721.195 313.624)" /><path d="M 0 -6 L -6 6 L 6 6 z" style="fill: #ff0b20" transform="translate(734.635 304.069)" /><path d="M 0 -6 L -6 6 L 6 6 z" style="fill: #ff0b20" transform="translate(757.036 217.837)" /><path d="M 0 -6 L -6 6 L 6 6 z" style="fill: #ff0b20" transform="translate(779.436 178.162)" /><path d="M 0 -6 L -6 6 L 6 6 z" style="fill: #ff0b20" transform="translate(801.837 156.024)" /><path d="M 0 -6 L -6 6 L 6 6 z" style="fill: #ff0b20" transform="translate(846.638 129.522)" /><path d="M 0 -6 L -6 6 L 6 6 z" style="fill: #ff0b20" transform="translate(891.439 112.928)" /><path d="M 0 -6 L -6 6 L 6 6 z" style="fill: #ff0b20" transform="translate(981.041 98.025)" /><path d="M 0 -6 L -6 6 L 6 6 z" style="fill: #ff0b20" transform="translate(1160.244 79.898)" /></g></g><g><path d="M 721.195 147.255 L 734.635 130.819 L 757.036 123.034 L 779.436 117.686 L 801.837 119.534 L 846.638 112.692 L 891.439 113.99 L 981.041 112.495 L 1160.244 110.057" style="fill: none; stroke-dasharray: 16,4,2.5,4; stroke-dashoffset: 0; stroke: #ffa531; stroke-width: 2.5" /><g><path d="M 0 -6 L -1.347 -1.854 L -5.706 -1.854 L -2.18 0.708 L -3.527 4.854 L -0 2.292 L 3.527 4.854 L 2.18 0.708 L 5.706 -1.854 L 1.347 -1.854 z" style="fill: #ffa531" transform="translate(721.195 147.255)" /><path d="M 0 -6 L -1.347 -1.854 L -5.706 -1.854 L -2.18 0.708 L -3.527 4.854 L -0 2.292 L 3.527 4.854 L 2.18 0.708 L 5.706 -1.854 L 1.347 -1.854 z" style="fill: #ffa531" transform="translate(734.635 130.819)" /><path d="M 0 -6 L -1.347 -1.854 L -5.706 -1.854 L -2.18 0.708 L -3.527 4.854 L -0 2.292 L 3.527 4.854 L 2.18 0.708 L 5.706 -1.854 L 1.347 -1.854 z" style="fill: #ffa531" transform="translate(757.036 123.034)" /><path d="M 0 -6 L -1.347 -1.854 L -5.706 -1.854 L -2.18 0.708 L -3.527 4.854 L -0 2.292 L 3.527 4.854 L 2.18 0.708 L 5.706 -1.854 L 1.347 -1.854 z" style="fill: #ffa531" transform="translate(779.436 117.686)" /><path d="M 0 -6 L -1.347 -1.854 L -5.706 -1.854 L -2.18 0.708 L -3.527 4.854 L -0 2.292 L 3.527 4.854 L 2.18 0.708 L 5.706 -1.854 L 1.347 -1.854 z" style="fill: #ffa531" transform="translate(801.837 119.534)" /><path d="M 0 -6 L -1.347 -1.854 L -5.706 -1.854 L -2.18 0.708 L -3.527 4.854 L -0 2.292 L 3.527 4.854 L 2.18 0.708 L 5.706 -1.854 L 1.347 -1.854 z" style="fill: #ffa531" transform="translate(846.638 112.692)" /><path d="M 0 -6 L -1.347 -1.854 L -5.706 -1.854 L -2.18 0.708 L -3.527 4.854 L -0 2.292 L 3.527 4.854 L 2.18 0.708 L 5.706 -1.854 L 1.347 -1.854 z" style="fill: #ffa531" transform="translate(891.439 113.99)" /><path d="M 0 -6 L -1.347 -1.854 L -5.706 -1.854 L -2.18 0.708 L -3.527 4.854 L -0 2.292 L 3.527 4.854 L 2.18 0.708 L 5.706 -1.854 L 1.347 -1.854 z" style="fill: #ffa531" transform="translate(981.041 112.495)" /><path d="M 0 -6 L -1.347 -1.854 L -5.706 -1.854 L -2.18 0.708 L -3.527 4.854 L -0 2.292 L 3.527 4.854 L 2.18 0.708 L 5.706 -1.854 L 1.347 -1.854 z" style="fill: #ffa531" transform="translate(1160.244 110.057)" /></g></g><g><path d="M 721.195 222.595 L 734.635 203.446 L 757.036 194.441 L 779.436 190.863 L 801.837 189.251 L 846.638 187.009 L 891.439 186.066 L 981.041 184.729 L 1160.244 184.06" style="fill: none; stroke-dasharray: 16,4,2.5,4; stroke-dashoffset: 0; stroke: #000000; stroke-width: 2.5" /><g><path d="M -6 0 L 6 0 M 0 6 L 0 -6" style="stroke: #000000; stroke-width: 0.8;stroke: #000000; stroke-width: 0.8" transform="translate(721.195 222.595)" /><path d="M -6 0 L 6 0 M 0 6 L 0 -6" style="stroke: #000000; stroke-width: 0.8;stroke: #000000; stroke-width: 0.8" transform="translate(734.635 203.446)" /><path d="M -6 0 L 6 0 M 0 6 L 0 -6" style="stroke: #000000; stroke-width: 0.8;stroke: #000000; stroke-width: 0.8" transform="translate(757.036 194.441)" /><path d="M -6 0 L 6 0 M 0 6 L 0 -6" style="stroke: #000000; stroke-width: 0.8;stroke: #000000; stroke-width: 0.8" transform="translate(779.436 190.863)" /><path d="M -6 0 L 6 0 M 0 6 L 0 -6" style="stroke: #000000; stroke-width: 0.8;stroke: #000000; stroke-width: 0.8" transform="translate(801.837 189.251)" /><path d="M -6 0 L 6 0 M 0 6 L 0 -6" style="stroke: #000000; stroke-width: 0.8;stroke: #000000; stroke-width: 0.8" transform="translate(846.638 187.009)" /><path d="M -6 0 L 6 0 M 0 6 L 0 -6" style="stroke: #000000; stroke-width: 0.8;stroke: #000000; stroke-width: 0.8" transform="translate(891.439 186.066)" /><path d="M -6 0 L 6 0 M 0 6 L 0 -6" style="stroke: #000000; stroke-width: 0.8;stroke: #000000; stroke-width: 0.8" transform="translate(981.041 184.729)" /><path d="M -6 0 L 6 0 M 0 6 L 0 -6" style="stroke: #000000; stroke-width: 0.8;stroke: #000000; stroke-width: 0.8" transform="translate(1160.244 184.06)" /></g></g><g><path d="M 699.242 327.591 L 699.242 14.015" style="fill: none; stroke: #000000; stroke-width: 0.7; stroke-linejoin: miter; stroke-linecap: square" /></g><g><path d="M 1182.197 327.591 L 1182.197 14.015" style="fill: none; stroke: #000000; stroke-width: 0.7; stroke-linejoin: miter; stroke-linecap: square" /></g><g><path d="M 699.242 327.591 L 1182.197 327.591" style="fill: none; stroke: #000000; stroke-width: 0.7; stroke-linejoin: miter; stroke-linecap: square" /></g><g><path d="M 699.242 14.015 L 1182.197 14.015" style="fill: none; stroke: #000000; stroke-width: 0.7; stroke-linejoin: miter; stroke-linecap: square" /></g><g><g><path d="M 830.122 321.091 L 1173.097 321.091 Q 1175.697 321.091 1175.697 318.491 L 1175.697 244.31 Q 1175.697 241.71 1173.097 241.71 L 830.122 241.71 Q 827.522 241.71 827.522 244.31 L 827.522 318.491 Q 827.522 321.091 830.122 321.091 z" style="fill: #ffffff; opacity: 0.8; stroke: #cccccc; stroke-linejoin: miter" /></g><g><path d="M 832.592 252.108 L 845.592 252.108 L 858.592 252.108" style="fill: none; stroke: #0000ff; stroke-width: 2.5; stroke-linecap: square" /><g><path d="M 0 -6 L -1.347 -1.854 L -5.706 -1.854 L -2.18 0.708 L -3.527 4.854 L -0 2.292 L 3.527 4.854 L 2.18 0.708 L 5.706 -1.854 L 1.347 -1.854 z" style="fill: #0000ff" transform="translate(845.592 252.108)" /></g></g><g><text style="font-size: 13px; font-family: 'DejaVu Sans', 'Liberation Sans', sans-serif; text-anchor: start" x="868.992" y="256.658">QoMax-SDA (q=1/2)</text></g><g><path d="M 832.592 270.994 L 845.592 270.994 L 858.592 270.994" style="fill: none; stroke: #800080; stroke-width: 2.5; stroke-linecap: square" /><g><path d="M -6 6 L 6 -6 M -6 -6 L 6 6" style="stroke: #800080; stroke-width: 0.8;fill: #800080; stroke: #800080; stroke-width: 0.8" transform="translate(845.592 270.994)" /></g></g><g><text style="font-size: 13px; font-family: 'DejaVu Sans', 'Liberation Sans', sans-serif; text-anchor: start" x="868.992" y="275.544">QoMax-ETC (q=1/2)</text></g><g><path d="M 832.592 289.881 L 845.592 289.881 L 858.592 289.881" style="fill: none; stroke-dasharray: 2.5,4.125; stroke-dashoffset: 0; stroke: #0cb577; stroke-width: 2.5" /><g><path d="M 0 3 C 0.796 3 1.559 2.684 2.121 2.121 C 2.684 1.559 3 0.796 3 0 C 3 -0.796 2.684 -1.559 2.121 -2.121 C 1.559 -2.684 0.796 -3 0 -3 C -0.796 -3 -1.559 -2.684 -2.121 -2.121 C -2.684 -1.559 -3 -0.796 -3 0 C -3 0.796 -2.684 1.559 -2.121 2.121 C -1.559 2.684 -0.796 3 0 3 z" style="fill: #0cb577" transform="translate(845.592 289.881)" /></g></g><g><text style="font-size: 13px; font-family: 'DejaVu Sans', 'Liberation Sans', sans-serif; text-anchor: start" x="868.992" y="294.431">QoMax-ETC (q=0.9)</text></g><g><path d="M 832.592 308.767 L 845.592 308.767 L 858.592 308.767" style="fill: none; stroke-dasharray: 2.5,4.125; stroke-dashoffset: 0; stroke: #006410; stroke-width: 2.5" /><g><path d="M 0 -6 L -6 6 L 6 6 z" style="fill: #006410" transform="translate(845.592 308.767)" /></g></g><g><text style="font-size: 13px; font-family: 'DejaVu Sans', 'Liberation Sans', sans-serif; text-anchor: start" x="868.992" y="313.317">QoMax-SDA (q=0.9)</text></g><g><path d="M 1026.02 252.108 L 1039.02 252.108 L 1052.02 252.108" style="fill: none; stroke-dasharray: 9.25,4; stroke-dashoffset: 0; stroke: #ff8076; stroke-width: 2.5" /><g><path d="M 0 -6 L -5.706 -1.854 L -3.527 4.854 L 3.527 4.854 L 5.706 -1.854 z" style="fill: #ff8076" transform="translate(1039.02 252.108)" /></g></g><g><text style="font-size: 13px; font-family: 'DejaVu Sans', 'Liberation Sans', sans-serif; text-anchor: start" x="1062.42" y="256.658">ExtremeETC</text></g><g><path d="M 1026.02 270.994 L 1039.02 270.994 L 1052.02 270.994" style="fill: none; stroke-dasharray: 9.25,4; stroke-dashoffset: 0; stroke: #ff0b20; stroke-width: 2.5" /><g><path d="M 0 -6 L -6 6 L 6 6 z" style="fill: #ff0b20" transform="translate(1039.02 270.994)" /></g></g><g><text style="font-size: 13px; font-family: 'DejaVu Sans', 'Liberation Sans', sans-serif; text-anchor: start" x="1062.42" y="275.544">ExtremeHunter</text></g><g><path d="M 1026.02 289.881 L 1039.02 289.881 L 1052.02 289.881" style="fill: none; stroke-dasharray: 16,4,2.5,4; stroke-dashoffset: 0; stroke: #ffa531; stroke-width: 2.5" /><g><path d="M 0 -6 L -1.347 -1.854 L -5.706 -1.854 L -2.18 0.708 L -3.527 4.854 L -0 2.292 L 3.527 4.854 L 2.18 0.708 L 5.706 -1.854 L 1.347 -1.854 z" style="fill: #ffa531" transform="translate(1039.02 289.881)" /></g></g><g><text style="font-size: 13px; font-family: 'DejaVu Sans', 'Liberation Sans', sans-serif; text-anchor: start" x="1062.42" y="294.431">MaxMedian</text></g><g><path d="M 1026.02 308.767 L 1039.02 308.767 L 1052.02 308.767" style="fill: none; stroke-dasharray: 16,4,2.5,4; stroke-dashoffset: 0; stroke: #000000; stroke-width: 2.5" /><g><path d="M -6 0 L 6 0 M 0 6 L 0 -6" style="stroke: #000000; stroke-width: 0.8;stroke: #000000; stroke-width: 0.8" transform="translate(1039.02 308.767)" /></g></g><g><text style="font-size: 13px; font-family: 'DejaVu Sans', 'Liberation Sans', sans-serif; text-anchor: start" x="1062.42" y="313.317">ThresholdAscent</text></g></g></g></g></svg>
</body></html>
